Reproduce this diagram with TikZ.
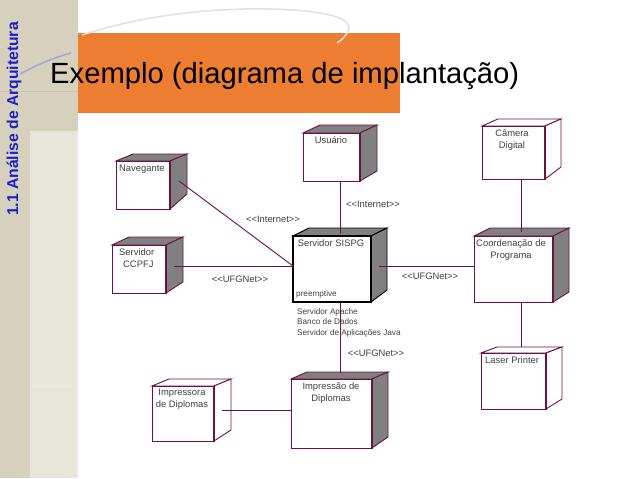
\documentclass[tikz,border=0pt]{standalone}
\usepackage{fontspec}
\setmainfont{Liberation Sans}
\definecolor{maroon}{HTML}{6B1242}
\definecolor{tanA}{HTML}{D5D1BC}
\definecolor{tanB}{HTML}{E8E6DA}
\definecolor{tanC}{HTML}{ECEAE0}
\definecolor{orangeband}{HTML}{ED7D31}
\definecolor{sidegray}{HTML}{808080}
\definecolor{headblue}{HTML}{1E1EC8}
\definecolor{tinge}{HTML}{C9C3AE}
\newcommand{\cube}[9]{%
  % #1 name, #2 x0, #3 y0, #4 x1, #5 y1, #6 backx, #7 backtop, #8 backbottom, #9 fill
  \filldraw[cubeline,fill=#9] (#2,#3) -- (#2+#6-#4,#7) -- (#6,#7) -- (#4,#3) -- cycle;
  \filldraw[cubeline,fill=#9] (#4,#3) -- (#6,#7) -- (#6,#8) -- (#4,#5) -- cycle;
  \path (#2,#3) -- (#4,#5) node[midway,facebox,minimum width=#4pt-#2pt,minimum height=#5pt-#3pt] (#1) {};
  \draw[cubeline,line width=1.4pt] (#4,#3) -- (#4,#5);
}
\tikzset{
  x=1pt,y=-1pt,
  cubeline/.style={draw=maroon,line width=0.9pt,line join=miter},
  facebox/.style={draw=maroon,line width=0.9pt,fill=white,inner sep=0pt,outer sep=0pt},
  wire/.style={draw=maroon,line width=0.9pt},
  lbl/.style={font=\fontsize{9.4}{12}\selectfont,text=black!75,align=center,inner sep=0pt,anchor=north},
  lblleft/.style={font=\fontsize{9.4}{12}\selectfont,text=black!75,align=left,inner sep=0pt,anchor=north west},
  lblsmall/.style={font=\fontsize{8.2}{10.5}\selectfont,text=black!75,align=left,inner sep=0pt,anchor=north west},
}
\begin{document}
\begin{tikzpicture}
\useasboundingbox (0,0) rectangle (638,479);
\fill[white] (0,0) rectangle (638,479);
% slide background
\fill[tanA] (0,0) rectangle (78,478);
\fill[tanB] (30,131) rectangle (78,478);
\fill[tanC] (76,131) rectangle (78,478);
\draw[tinge,line width=0.4pt] (0,91) -- (78,91);
\draw[tanC,line width=0.6pt] (30,386) -- (78,386);
\fill[orangeband] (78,33) rectangle (400,113);
% decorative curves
\draw[white!88!black,line width=1.5pt] (82,35) .. controls (150,13) and (220,8) .. (270,9) .. controls (320,10) and (350,17) .. (349,28) .. controls (348,34) and (343,39) .. (337,43);
\draw[blue!45!gray!50,line width=1.5pt] (20,74) .. controls (35,66) and (52,58) .. (71,53);
% title
\node[font=\fontsize{29.2}{32}\selectfont,anchor=base west,inner sep=0pt,text=black] (title) at (50,83) {Exemplo (diagrama de implantação)};
\node[font=\bfseries\fontsize{15.7}{18}\selectfont,text=headblue,rotate=90,anchor=base,inner sep=0pt] (section) at (18,119) {1.1 Análise de Arquitetura};
% cubes
\cube{nav}{116}{161}{170}{209}{187}{154}{194}{sidegray}
\cube{usu}{303}{133}{360}{181}{377}{125}{171}{sidegray}
\cube{cam}{482}{126}{545}{179}{561}{119}{167}{white}
\cube{ccp}{112}{245}{166}{293}{183}{237}{282}{sidegray}
\cube{coo}{474}{236}{553}{302}{569}{228}{292}{sidegray}
\cube{las}{481}{353}{546}{409}{562}{347}{399}{white}
\cube{imp}{152}{386}{214}{441}{231}{379}{430}{white}
\cube{dip}{291}{379}{372}{448}{388}{372}{437}{sidegray}
\begin{scope}[cubeline/.append style={draw=black},facebox/.append style={draw=black,line width=1.4pt}]
\cube{sis}{293}{236}{371}{302}{387}{228}{290}{sidegray}
\end{scope}
% connector ends
\coordinate (navEnd) at (179,181);
\coordinate (ccpEnd) at (174,266);
\coordinate (sisW) at (293,266);
\coordinate (sisE) at (379,266);
\coordinate (cooW) at (474,266);
\coordinate (usuS) at (340,181);
\coordinate (sisN) at (340,234);
\coordinate (sisS) at (340,303);
\coordinate (dipN) at (340,373);
\coordinate (camS) at (521,179);
\coordinate (cooN) at (521,232);
\coordinate (cooS) at (521,302);
\coordinate (lasN) at (521,347);
\coordinate (impE) at (222,410);
\coordinate (dipW) at (291,410);
\draw[wire] (navEnd) -- (sisW);
\draw[wire] (ccpEnd) -- (sisW);
\draw[wire] (usuS) -- (sisN);
\draw[wire] (sisE) -- (cooW);
\draw[wire] (sisS) -- (dipN);
\draw[wire] (camS) -- (cooN);
\draw[wire] (cooS) -- (lasN);
\draw[wire] (impE) -- (dipW);
% cube labels
\node[lblleft] at (119,165) {Navegante};
\node[lbl] at (331,136) {Usuário};
\node[lbl] at (512,129) {Câmera\\Digital};
\node[lbl] at (331,239) {Servidor SISPG};
\node[lblleft] at (119,248) {Servidor};
\node[lblleft] at (123,261) {CCPFJ};
\node[lbl] at (511,239) {Coordenação de\\Programa};
\node[lblleft] at (485,356) {Laser Printer};
\node[lbl] at (182,389) {Impressora\\de Diplomas};
\node[lbl] at (331,382) {Impressão de\\Diplomas};
\node[lblsmall] at (296,290) {preemptive};
\node[lblsmall] at (297,308) {Servidor Apache\\Banco de Dados\\Servidor de Aplicações Java};
% stereotype labels
\node[lbl] at (373,201) {<{}<Internet>{}>};
\node[lbl] at (273,216) {<{}<Internet>{}>};
\node[lbl] at (240,276) {<{}<UFGNet>{}>};
\node[lbl] at (430,273) {<{}<UFGNet>{}>};
\node[lbl] at (376,350) {<{}<UFGNet>{}>};
\end{tikzpicture}
\end{document}
